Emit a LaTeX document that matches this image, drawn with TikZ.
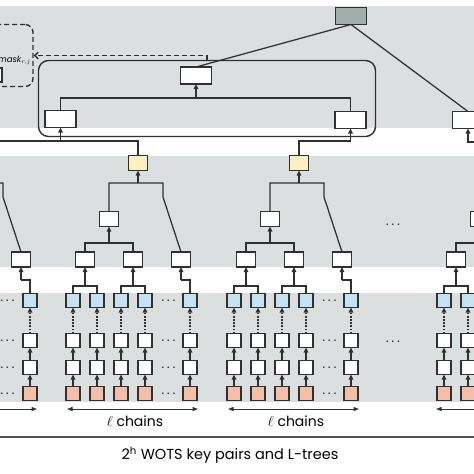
\documentclass[tikz,border=0pt]{standalone}
\usepackage{fontspec}
\setmainfont{Poppins}
\usetikzlibrary{arrows.meta}
\definecolor{band}{HTML}{DCDFE0}
\definecolor{ln}{HTML}{303030}
\definecolor{blu}{HTML}{C4E2F2}
\definecolor{sal}{HTML}{F4BFA8}
\definecolor{yel}{HTML}{FDF0C0}
\definecolor{dk}{HTML}{A2AEAC}
\newcommand\mkchain[2]{%
  \node[sq,fill=blu] (b#1) at (#2,300.5) {};
  \node[sq] (u#1) at (#2,340.5) {};
  \node[sq] (v#1) at (#2,367.5) {};
  \node[sq,fill=sal] (s#1) at (#2,393.5) {};
  \draw[arr] (s#1) -- (v#1);
  \draw[arr] (v#1) -- (u#1);
  \draw[darr] (u#1) -- (b#1);
}
\begin{document}
\begin{tikzpicture}[x=1pt,y=-1pt,
  nd/.style={draw=ln,line width=1.4pt,fill=white,inner sep=0pt,outer sep=0pt},
  bigbox/.style={nd,minimum width=31pt,minimum height=17pt},
  midbox/.style={nd,minimum width=19pt,minimum height=15pt},
  sq/.style={nd,minimum width=14pt,minimum height=14pt},
  conn/.style={draw=ln,line width=1.25pt},
  arr/.style={conn,-{Triangle[length=5pt,width=4.5pt]}},
  darr/.style={conn,line width=1.9pt,dash pattern=on 1.8pt off 1.4pt,-{Triangle[length=5pt,width=4.5pt]}},
  harr/.style={conn,line width=1pt},
  tip/.tip={Triangle[length=5.5pt,width=4pt]},
  dots/.style={inner sep=0pt,text=ln,font=\fontsize{11}{11}\selectfont\boldmath},
  lbl/.style={inner sep=0pt,font=\fontsize{14}{16}\selectfont}]
\useasboundingbox (0,0) rectangle (474,474);
\clip (0,0) rectangle (474,474);
% bands
\fill[band] (0,6) rectangle (474,128);
\fill[band] (0,156) rectangle (474,267);
\fill[band] (0,293) rectangle (474,402);
% band 1
\node[bigbox,fill=dk] (root) at (351,16) {};
\node[bigbox] (top) at (196,75.5) {};
\node[bigbox] (bl) at (60.5,119) {};
\node[bigbox] (br) at (350.5,120) {};
\node[bigbox] (rr) at (468,120) {};
\node[draw=ln,line width=1.4pt,rounded corners=10pt,minimum width=337pt,minimum height=76pt,inner sep=0pt] (frame) at (207,98.5) {};
\node[draw=ln,line width=1.4pt,dash pattern=on 5pt off 3pt,rounded corners=8pt,minimum width=92pt,minimum height=62pt,inner sep=0pt] (dbox) at (-13,55.5) {};
\node[anchor=base east,inner sep=0pt,font=\fontsize{8.5}{9}\selectfont] (bm) at (31,62) {$\mathit{bitmask}_{r,j}$};
\node[nd,minimum width=24pt,minimum height=14pt] (sb) at (-10,75) {};
\draw[conn] (root.south) -- (top.north);
\draw[conn] (root.south) -- (rr.north);
\draw[conn,line width=1.4pt,dash pattern=on 5pt off 3pt,-{Straight Barb[length=3.5pt,width=6.5pt]}] (frame.north) |- (dbox.east);
\coordinate (j1) at (196,98);
\draw[conn] (bl.north) |- (j1) -| (br.north);
\draw[arr] (j1) -- (top.south);
% yellow roots
\node[midbox,fill=yel] (y1) at (138,163) {};
\node[midbox,fill=yel] (y2) at (299,163) {};
\coordinate (offL) at (-5,141);
\coordinate (j2) at (60.5,141);
\draw[conn] (offL) -| (y1.north);
\draw[arr] (j2) -- (bl.south);
\coordinate (j3) at (350.5,141);
\draw[conn] (y2.north) |- (j3);
\draw[arr] (j3) -- (br.south);
\coordinate (offR) at (480,142);
\draw[arr] (offR) -| (rr.south);
% band 2 + band 3 full groups
\foreach \g/\G in {1/73,2/234} {
  \node[midbox] (L\g) at (\G+36,219) {};
  \node[midbox] (LL\g) at (\G+12,259.5) {};
  \node[midbox] (LR\g) at (\G+60,259.5) {};
  \node[midbox] (R\g) at (\G+108,259.5) {};
  \coordinate (k\g) at (\G+65,183);
  \coordinate (m\g) at (\G+36,243);
  \draw[conn] (L\g.north) |- (k\g) -- ++(25,0) -- ++(0,14) -- (R\g.north);
  \draw[arr] (k\g) -- (y\g.south);
  \draw[conn] (LL\g.north) |- (m\g) -| (LR\g.north);
  \draw[arr] (m\g) -- (L\g.south);
  \foreach \i/\dx in {1/0,2/24,3/48,4/72,5/117} {\mkchain{\g-\i}{\G+\dx}}
  \foreach \r/\yy in {1/300.5,2/340.5,3/367.5,4/393.5} {\node[dots] (d\g-\r) at (\G+95.5,\yy) {$\cdots$};}
  \coordinate (pa\g) at (\G+12,286);
  \coordinate (pb\g) at (\G+60,286);
  \coordinate (pc\g) at (\G+108,280);
  \draw[conn] (b\g-1.north) |- (pa\g) -| (b\g-2.north);
  \draw[arr] (pa\g) -- (LL\g.south);
  \draw[conn] (b\g-3.north) |- (pb\g) -| (b\g-4.north);
  \draw[arr] (pb\g) -- (LR\g.south);
  \draw[conn] (b\g-5.north) |- (pc\g);
  \draw[arr] (pc\g) -- (R\g.south);
  \coordinate (al\g) at (\G-6,409);
  \coordinate (ar\g) at (\G+125,409);
  \draw[harr,tip-tip] (al\g) -- (ar\g);
  \node[lbl] (lab\g) at (\G+62,421) {$\ell$ chains};
}
% group 0 (partial, left)
\node[midbox] (R0) at (21,259.5) {};
\coordinate (k0) at (-5,183);
\draw[conn] (k0) -- ++(8,0) -- ++(0,14) -- (R0.north);
\mkchain{0-5}{30}
\foreach \r/\yy in {1/300.5,2/340.5,3/367.5,4/393.5} {\node[dots] (d0-\r) at (7.5,\yy) {$\cdots$};}
\coordinate (pc0) at (21,280);
\draw[conn] (b0-5.north) |- (pc0);
\draw[arr] (pc0) -- (R0.south);
\coordinate (al0) at (-5,409);
\coordinate (ar0) at (37,409);
\draw[harr,-tip] (al0) -- (ar0);
% group 3 (partial, right)
\node[midbox] (LL3) at (456,259.5) {};
\node[midbox] (L3) at (480,219) {};
\coordinate (m3) at (480,243);
\draw[conn] (LL3.north) |- (m3) -- ++(10,0);
\draw[arr] (m3) -- (L3.south);
\mkchain{3-1}{444}
\mkchain{3-2}{468}
\coordinate (pa3) at (456,286);
\draw[conn] (b3-1.north) |- (pa3) -| (b3-2.north);
\draw[arr] (pa3) -- (LL3.south);
\coordinate (al3) at (436,409);
\coordinate (ar3) at (490,409);
\draw[harr,tip-] (al3) -- (ar3);
% gap dots
\node[dots] (gapA) at (393,225) {$\cdots$};
\node[dots] (gapB) at (393,342) {$\cdots$};
% bottom rule and title
\coordinate (r0) at (0,437);
\coordinate (r1) at (474,437);
\draw[line width=1.1pt,draw=ln!85] (r0) -- (r1);
\node[inner sep=0pt,font=\fontsize{14.5}{16}\selectfont] (title) at (230,455) {2\textsuperscript{h} WOTS key pairs and L-trees};
\end{tikzpicture}
\end{document}
